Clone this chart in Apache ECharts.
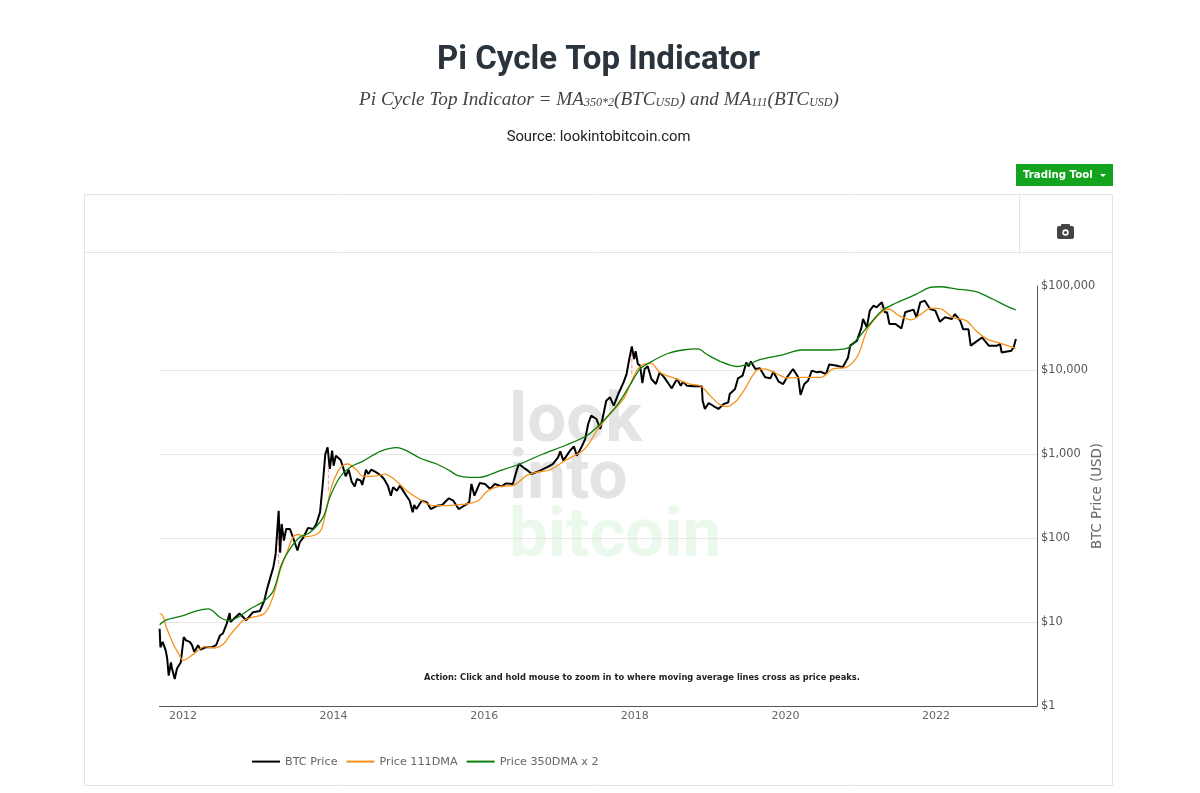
<!DOCTYPE html>
<html>
<head>
<meta charset="utf-8">
<title>Pi Cycle Top Indicator</title>
<script src="https://cdn.jsdelivr.net/npm/echarts@6/dist/echarts.min.js"></script>
<style>
html, body { margin: 0; padding: 0; background: #fff; }
#chart { width: 1200px; height: 793px; }
</style>
</head>
<body>
<div id="chart"></div>
<script>
// x values are decimal years, y values are USD
var priceYears = [2011.69,2011.70,2011.73,2011.77,2011.79,2011.81,2011.84,2011.85,2011.89,2011.92,2011.97,2012.01,2012.04,2012.09,2012.12,2012.15,2012.20,2012.23,2012.30,2012.38,2012.44,2012.49,2012.53,2012.58,2012.62,2012.63,2012.68,2012.75,2012.84,2012.93,2013.02,2013.08,
  2013.11,2013.16,2013.20,2013.23,2013.27,2013.29,2013.31,2013.34,2013.37,2013.42,2013.46,2013.52,2013.55,2013.60,2013.66,2013.73,2013.77,2013.82,2013.86,2013.89,
  2013.92,2013.95,2013.98,2014.00,2014.03,2014.09,2014.12,2014.16,2014.20,2014.24,2014.28,2014.31,2014.36,2014.38,2014.43,2014.46,2014.50,2014.55,2014.62,2014.67,2014.72,2014.76,2014.79,2014.84,2014.88,2014.95,2015.01,2015.05,2015.07,2015.10,2015.17,2015.24,2015.29,2015.37,2015.44,2015.53,2015.59,2015.66,2015.75,2015.80,2015.83,2015.87,2015.94,2016.01,2016.08,2016.14,2016.23,
  2016.29,2016.38,2016.43,2016.46,2016.53,2016.58,2016.63,2016.74,2016.83,2016.91,2016.98,2017.01,2017.05,2017.14,2017.19,2017.23,2017.29,2017.34,2017.38,2017.42,2017.49,2017.54,2017.57,2017.62,2017.67,2017.72,2017.78,2017.85,2017.89,2017.93,2017.96,2017.99,2018.01,2018.04,
  2018.07,2018.10,2018.13,2018.17,2018.22,2018.28,2018.33,2018.39,2018.45,2018.49,2018.56,2018.61,2018.64,2018.69,2018.78,2018.89,2018.90,2018.93,2018.98,2019.05,2019.11,2019.18,2019.24,2019.26,2019.33,2019.37,2019.43,2019.48,2019.51,2019.54,2019.60,2019.66,2019.73,2019.80,2019.84,2019.91,2019.97,2020.02,2020.10,2020.17,2020.20,2020.25,2020.30,2020.35,2020.42,2020.46,
  2020.54,2020.58,2020.67,2020.76,2020.83,
  2020.86,2020.95,2021.01,2021.03,2021.08,2021.12,2021.17,2021.21,2021.28,2021.32,2021.35,2021.38,2021.46,2021.54,2021.59,2021.70,2021.74,2021.79,2021.85,2021.92,2021.99,2022.05,2022.12,2022.21,2022.25,2022.32,2022.36,2022.43,2022.46,2022.52,2022.61,2022.70,2022.81,2022.85,2022.87,2023.00,2023.03,2023.06];
var priceValues = [8.3,5.0,5.8,4.6,3.7,2.3,3.3,2.9,2.1,2.8,3.3,6.6,6.05,5.8,5.3,4.4,5.3,4.7,5.0,5.0,5.3,6.9,7.3,9.5,12.8,10,11,12.6,10.5,13.1,13.5,18,
  23.6,34,45,64,211,67,147,93,128,128,102,71,89,102,132,128,147,203,480,1000,
  1200,663,1100,726,955,856,726,542,651,468,412,504,482,427,651,578,651,616,562,504,420,319,401,366,420,334,278,202,247,221,278,265,221,242,247,297,278,221,247,265,440,319,451,440,383,440,412,
  447,440,633,760,680,633,578,633,693,760,912,1076,833,1096,1233,955,1200,1507,2277,2860,2610,1985,2610,4310,4730,3765,5180,7130,8950,14100,19100,13500,16700,11800,
  11260,7000,10300,11060,7810,6810,9380,8180,6810,6050,7810,6510,7260,6510,6390,6390,4310,3440,4050,3700,3440,3940,4120,5180,5940,7960,8560,12300,11060,12600,10280,10470,8180,7960,9550,7260,6810,8180,10280,8180,5040,6810,7470,9820,9380,9550,
  8950,11600,11300,10800,14000,
  19480,22350,32200,40500,32200,50900,58400,55800,63900,48600,48600,35300,35300,31300,48600,52300,42400,63900,66900,53200,50900,37600,42400,40500,46300,38700,30500,30500,19500,21300,24400,19500,19500,20400,16200,17000,18600,23400];

var ma111Years = [2011.69,2011.73,2011.78,2011.87,2011.94,2012.00,2012.14,2012.29,2012.42,2012.54,2012.62,2012.71,2012.80,2012.93,2013.07,2013.15,2013.22,2013.29,2013.38,2013.46,2013.53,2013.64,2013.77,2013.84,2013.91,2013.97,2014.06,2014.13,2014.19,2014.31,2014.39,2014.57,2014.68,2014.80,2014.97,2015.15,2015.32,2015.50,2015.67,2015.81,2015.92,2016.05,2016.21,2016.38,2016.56,2016.69,2016.87,2017.07,2017.31,2017.40,2017.51,2017.67,2017.85,2017.96,2018.04,2018.13,2018.22,2018.33,2018.55,2018.73,2018.87,2019.00,2019.13,2019.22,2019.35,2019.46,2019.61,2019.72,2019.83,2020.03,2020.23,2020.47,2020.63,2020.81,2020.96,2021.09,2021.25,2021.37,2021.51,2021.67,2021.80,2021.93,2022.07,2022.22,2022.40,2022.53,2022.69,2022.84,2023.06];
var ma111Values = [12.7,11.9,8.6,5.5,4.2,3.5,4.15,5.1,4.9,5.5,6.9,8.6,10.4,11.4,12.4,15.7,23.6,41,67.5,102,110,104,110,128,232,400,630,740,760,640,540,550,575,505,365,285,243,243,249,259,278,366,412,420,552,605,645,833,1096,1377,1985,2990,4520,7470,10300,11800,12000,9370,7820,6810,6500,4950,3870,3660,4310,5930,9800,10300,9560,8030,8180,8180,10300,10800,14800,30500,46300,53200,44300,39500,46300,54600,53200,42400,38700,29300,23000,21000,18100];

var ma350x2Years = [2011.69,2011.78,2012.00,2012.18,2012.34,2012.40,2012.49,2012.60,2012.73,2012.89,2013.07,2013.20,2013.31,2013.42,2013.55,2013.69,2013.86,2013.95,2014.08,2014.22,2014.39,2014.62,2014.84,2014.97,2015.15,2015.37,2015.54,2015.65,2015.81,2015.94,2016.21,2016.47,2016.78,2017.09,2017.36,2017.54,2017.76,2017.93,2018.07,2018.20,2018.42,2018.64,2018.84,2018.95,2019.13,2019.35,2019.52,2019.65,2019.96,2020.21,2020.58,2020.83,2020.96,2021.12,2021.29,2021.47,2021.74,2021.91,2022.05,2022.27,2022.53,2022.75,2022.93,2023.06];
var ma350x2Values = [9.3,10.6,11.9,13.6,14.3,13.4,11.4,10.4,11.4,14.3,17.6,23.6,49,74,102,117,176,305,525,695,822,1075,1190,1095,890,760,633,552,528,528,633,760,1000,1280,1650,2280,3765,6500,10300,12300,15500,17300,17800,15500,12700,11000,11800,13200,15100,17300,17300,18300,23700,35300,51800,62800,80100,95700,98000,92000,85600,70000,58000,51800];

// pale dashed markers where the two averages cross at a peak
var crossYears = [2013.27,2013.27,null,2013.93,2013.93,null,2017.96,2017.96,null,2021.27,2021.27];
var crossValues = [205,45,null,1100,350,null,19000,8200,null,58000,52000];

var yearTicks = [2012,2014,2016,2018,2020,2022];

function pairs(xs, ys) {
    return xs.map(function (x, i) { return [x, ys[i]]; });
}

var sans = 'DejaVu Sans';
var serif = 'Liberation Serif';

var myChart = echarts.init(document.getElementById('chart'));
var option = {
    animation: false,
    backgroundColor: '#fff',
    tooltip: { trigger: 'axis' },
    grid: { left: 159.5, right: 163, top: 286, bottom: 87 },
    legend: {
        left: 246,
        top: 751,
        itemWidth: 28,
        itemGap: 8,
        itemHeight: 14,
        itemStyle: { opacity: 0 },
        textStyle: { fontFamily: sans, fontSize: 11.2, color: '#666' },
        data: ['BTC Price', 'Price 111DMA', 'Price 350DMA x 2']
    },
    xAxis: {
        type: 'value',
        min: 2011.688,
        max: 2023.34,
        splitLine: { show: false },
        axisTick: { show: false },
        axisLine: { lineStyle: { color: '#555' } },
        axisLabel: {
            customValues: yearTicks,
            formatter: function (v) { return String(v); },
            fontFamily: sans,
            fontSize: 11,
            color: '#666',
            margin: 5
        }
    },
    yAxis: {
        type: 'log',
        logBase: 10,
        min: 1,
        max: 100000,
        position: 'right',
        name: 'BTC Price (USD)',
        nameLocation: 'middle',
        nameRotate: 90,
        nameGap: 54,
        nameMoveOverlap: false,
        nameTextStyle: { fontFamily: sans, fontSize: 13.4, color: '#666' },
        axisLine: { show: true, lineStyle: { color: '#555' } },
        axisTick: { show: false },
        splitLine: { show: true, showMinLine: false, showMaxLine: false, lineStyle: { color: '#e6e6e6' } },
        axisLabel: {
            formatter: function (v) { return '$' + Math.round(v).toLocaleString('en-US'); },
            fontFamily: sans,
            fontSize: 11.4,
            color: '#555',
            margin: 4
        }
    },
    series: [
        {
            name: 'Pi Cycle Cross',
            type: 'line',
            symbol: 'none',
            z: 2,
            tooltip: { show: false },
            lineStyle: { color: '#ff8a8a', width: 1, type: 'dashed' },
            data: pairs(crossYears, crossValues)
        },
        {
            name: 'BTC Price',
            type: 'line',
            symbol: 'none',
            z: 3,
            color: '#000',
            lineStyle: { color: '#000', width: 2 },
            data: pairs(priceYears, priceValues)
        },
        {
            name: 'Price 111DMA',
            type: 'line',
            symbol: 'none',
            smooth: 0.3,
            z: 4,
            color: '#f7931a',
            lineStyle: { color: '#f7931a', width: 1.3 },
            data: pairs(ma111Years, ma111Values)
        },
        {
            name: 'Price 350DMA x 2',
            type: 'line',
            symbol: 'none',
            smooth: 0.3,
            z: 5,
            color: '#0a7d0a',
            lineStyle: { color: '#0a7d0a', width: 1.3 },
            data: pairs(ma350x2Years, ma350x2Values)
        }
    ],
    graphic: [
        // page heading
        { type: 'text', x: 598.5, y: 61, style: { text: 'Pi Cycle Top Indicator', font: 'bold 33px Roboto', fill: '#2b333d', align: 'center', verticalAlign: 'middle' } },
        { type: 'text', x: 599, y: 100, style: {
            text: '{i|Pi Cycle Top Indicator = MA}{s|350*2}{i|(BTC}{s|USD}{i|) and MA}{s|111}{i|(BTC}{s|USD}{i|)}',
            align: 'center', verticalAlign: 'middle', fill: '#444',
            rich: {
                i: { font: 'italic 19.2px ' + serif, fill: '#444' },
                s: { font: 'italic 12px ' + serif, fill: '#444', padding: [6, 0, 0, 0] }
            }
        } },
        { type: 'text', x: 598.5, y: 137, style: { text: 'Source: lookintobitcoin.com', font: '14.8px Roboto', fill: '#222', align: 'center', verticalAlign: 'middle' } },

        // trading tool button
        { type: 'rect', shape: { x: 1016, y: 164, width: 97, height: 22 }, style: { fill: '#14a31f' } },
        { type: 'text', x: 1023, y: 175, style: { text: 'Trading Tool', font: 'bold 10.2px ' + sans, fill: '#fff', verticalAlign: 'middle' } },
        { type: 'polygon', shape: { points: [[1100, 174], [1106, 174], [1103, 177]] }, style: { fill: '#fff' } },

        // plot frame and mode bar
        { type: 'rect', shape: { x: 84.5, y: 194.5, width: 1028, height: 591 }, style: { fill: 'none', stroke: '#e4e4e4' } },
        { type: 'line', shape: { x1: 84.5, y1: 252.5, x2: 1112.5, y2: 252.5 }, style: { stroke: '#e4e4e4' } },
        { type: 'line', shape: { x1: 1019.5, y1: 194.5, x2: 1019.5, y2: 252.5 }, style: { stroke: '#e4e4e4' } },

        // camera icon
        { type: 'rect', shape: { x: 1057, y: 226, width: 17, height: 13, r: 2 }, style: { fill: '#444' } },
        { type: 'rect', shape: { x: 1061, y: 224, width: 9, height: 3, r: 1 }, style: { fill: '#444' } },
        { type: 'circle', shape: { cx: 1065.5, cy: 232.5, r: 3.2 }, style: { fill: '#fff' } },
        { type: 'circle', shape: { cx: 1065.5, cy: 232.5, r: 1.6 }, style: { fill: '#444' } },

        // watermark
        { type: 'text', z: -1, x: 509, y: 424, style: { text: 'look', font: 'bold 69px Roboto', fill: '#e4e4e4', verticalAlign: 'middle' } },
        { type: 'text', z: -1, x: 509, y: 481, style: { text: 'into', font: 'bold 69px Roboto', fill: '#e4e4e4', verticalAlign: 'middle' } },
        { type: 'text', z: -1, x: 509, y: 539, style: { text: 'bitcoin', font: 'bold 69px Roboto', fill: '#ebf9ec', verticalAlign: 'middle' } },

        // note inside the plot
        { type: 'text', x: 642, y: 678, style: {
            text: 'Action: Click and hold mouse to zoom in to where moving average lines cross as price peaks.',
            font: 'bold 8.3px ' + sans, fill: '#222', align: 'center', verticalAlign: 'middle'
        } }
    ]
};
myChart.setOption(option);
</script>
</body>
</html>
